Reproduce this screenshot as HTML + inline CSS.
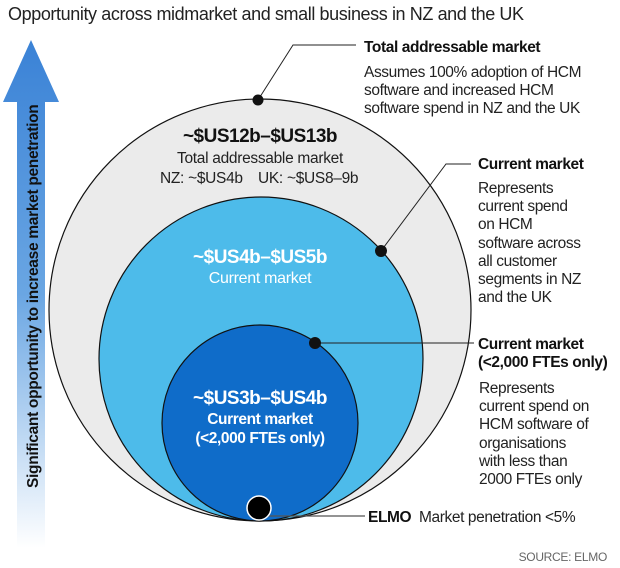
<!DOCTYPE html>
<html><head><meta charset="utf-8"><style>
html,body{margin:0;padding:0;background:#fff}
svg{display:block}
text{font-family:"Liberation Sans",sans-serif}
</style></head><body>
<svg width="620" height="568" viewBox="0 0 620 568" xmlns="http://www.w3.org/2000/svg">
<defs>
<linearGradient id="ag" x1="0" y1="0" x2="0" y2="1" gradientUnits="objectBoundingBox">
<stop offset="0" stop-color="#3a82d6"/>
<stop offset="0.5" stop-color="#6aa6e3"/>
<stop offset="1" stop-color="#ffffff"/>
</linearGradient>
</defs>
<text x="8" y="20" font-size="18" fill="#222" letter-spacing="-0.4">Opportunity across midmarket and small business in NZ and the UK</text>
<path d="M31 40 L59 102 L45 102 L45 548 L17 548 L17 102 L3 102 Z" fill="url(#ag)"/>
<text transform="translate(38,488) rotate(-90)" font-size="15.5" font-weight="bold" fill="#111" letter-spacing="-0.3">Significant opportunity to increase market penetration</text>
<circle cx="260" cy="310" r="211" fill="#ebebeb" stroke="#111" stroke-width="1.2"/>
<circle cx="261" cy="359" r="162" fill="#4dbbea" stroke="#111" stroke-width="1.2"/>
<circle cx="260" cy="423" r="98" fill="#0f6cc9" stroke="#111" stroke-width="1.2"/>
<polyline points="258,100 293,45 356,45" fill="none" stroke="#222" stroke-width="1"/>
<polyline points="381,251 446,164 471,164" fill="none" stroke="#222" stroke-width="1"/>
<line x1="315" y1="343" x2="474" y2="343" stroke="#222" stroke-width="1"/>
<line x1="262" y1="516" x2="365" y2="516" stroke="#555" stroke-width="1.2"/>
<circle cx="258" cy="100" r="5.5" fill="#111"/>
<circle cx="381" cy="251" r="6" fill="#111"/>
<circle cx="315" cy="343" r="6" fill="#111"/>
<circle cx="259" cy="508" r="12" fill="#000" stroke="#fff" stroke-width="1.5"/>
<g text-anchor="middle">
<text x="260" y="142" font-size="19" font-weight="bold" fill="#111" letter-spacing="-0.5">~$US12b–$US13b</text>
<text x="260" y="163" font-size="15.5" fill="#222" letter-spacing="-0.3">Total addressable market</text>
<text x="260" y="263" font-size="19" font-weight="bold" fill="#fff" letter-spacing="-0.5">~$US4b–$US5b</text>
<text x="260" y="283" font-size="16" fill="#fff" letter-spacing="-0.3">Current market</text>
<text x="260" y="404" font-size="19" font-weight="bold" fill="#fff" letter-spacing="-0.5">~$US3b–$US4b</text>
<text x="260" y="424" font-size="15.5" font-weight="bold" fill="#fff" letter-spacing="-0.4">Current market</text>
<text x="260" y="443" font-size="15.5" font-weight="bold" fill="#fff" letter-spacing="-0.4">(&lt;2,000 FTEs only)</text>
</g>
<text x="160" y="183" font-size="15.5" fill="#222" letter-spacing="-0.3">NZ: ~$US4b</text>
<text x="258" y="183" font-size="15.5" fill="#222" letter-spacing="-0.3">UK: ~$US8–9b</text>
<g font-size="15.5" fill="#222" letter-spacing="-0.4">
<text x="364" y="52" font-weight="bold" fill="#111">Total addressable market</text>
<text x="364" y="77">Assumes 100% adoption of HCM</text>
<text x="364" y="95">software and increased HCM</text>
<text x="364" y="113">software spend in NZ and the UK</text>
<text x="478" y="169" font-weight="bold" fill="#111">Current market</text>
<text x="478" y="193">Represents</text>
<text x="478" y="211">current spend</text>
<text x="478" y="229">on HCM</text>
<text x="478" y="248">software across</text>
<text x="478" y="266">all customer</text>
<text x="478" y="284">segments in NZ</text>
<text x="478" y="302">and the UK</text>
<text x="478" y="349" font-weight="bold" fill="#111">Current market</text>
<text x="478" y="367" font-weight="bold" fill="#111">(&lt;2,000 FTEs only)</text>
<text x="479" y="393">Represents</text>
<text x="479" y="411">current spend on</text>
<text x="479" y="429">HCM software of</text>
<text x="479" y="448">organisations</text>
<text x="479" y="466">with less than</text>
<text x="479" y="484">2000 FTEs only</text>
<text x="368" y="522" font-weight="bold" fill="#111">ELMO</text>
<text x="419" y="522">Market penetration &lt;5%</text>
</g>
<text x="607" y="561" font-size="12" fill="#666" text-anchor="end" letter-spacing="-0.3">SOURCE: ELMO</text>
</svg>
</body></html>
